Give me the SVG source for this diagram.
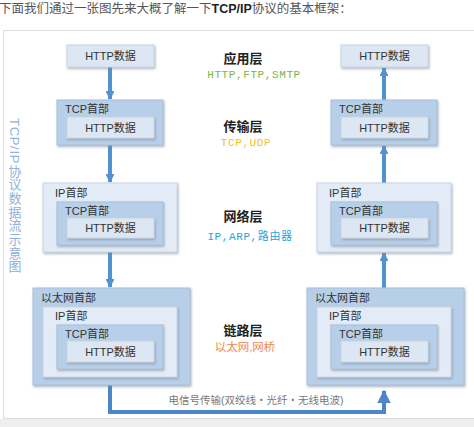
<svg xmlns="http://www.w3.org/2000/svg" width="474" height="427" viewBox="0 0 474 427">
<style>
text{font-family:"Liberation Sans","Noto Sans CJK SC",sans-serif}
.http{fill:#dce7f3;stroke:#c9d6e4;stroke-width:1}
.tcp{fill:#b7cfe8;stroke:#a8c0da;stroke-width:1}
.ip{fill:#e3ecf6;stroke:#c9d6e4;stroke-width:1}
.eth{fill:#b7cfe8;stroke:#a8c0da;stroke-width:1}
.bt{font-size:11px;fill:#333}
.ct{font-size:11px;fill:#333;text-anchor:middle}
.layer{font-size:13px;font-weight:bold;fill:#222;text-anchor:middle}
.proto{font-family:"Liberation Mono","Noto Sans CJK SC",monospace;font-size:11px;text-anchor:middle;letter-spacing:0.6px}
.arr{stroke:#5291d2;stroke-width:4;fill:none}
</style>
<defs>
<filter id="sh" x="-10%" y="-10%" width="130%" height="140%">
<feDropShadow dx="1" dy="1.5" stdDeviation="0.8" flood-color="#7a8896" flood-opacity="0.6"/>
</filter>
<marker id="ah" viewBox="0 0 10 10" refX="9" refY="5" markerWidth="2.2" markerHeight="2.2" orient="auto" markerUnits="strokeWidth">
<path d="M0,0 L10,5 L0,10 z" fill="#5291d2"/>
</marker>
<marker id="ahb" viewBox="0 0 10 10" refX="9" refY="5" markerWidth="3.4" markerHeight="3.4" orient="auto" markerUnits="strokeWidth">
<path d="M0,0 L10,5 L0,10 z" fill="#4a86c8"/>
</marker>
</defs>
<rect x="0" y="0" width="474" height="427" fill="#ffffff"/>
<rect x="0" y="419" width="474" height="8" fill="#efefef"/>
<text x="-1" y="13" font-size="12.5" fill="#555">下面我们通过一张图先来大概了解一下<tspan font-weight="bold" fill="#222">TCP/IP</tspan>协议的基本框架：</text>
<rect x="3.5" y="30.5" width="475" height="388" fill="#ffffff" stroke="#dddddd"/>
<text x="14" y="118" font-size="13" fill="#8fb1dc" letter-spacing="0.7" style="writing-mode:vertical-rl;text-orientation:mixed">TCP/IP协议数据流示意图</text>

<g id="connectors">
<line class="arr" x1="110" y1="67" x2="110" y2="99" marker-end="url(#ah)"/>
<line class="arr" x1="110" y1="145" x2="110" y2="182" marker-end="url(#ah)"/>
<line class="arr" x1="110" y1="252" x2="110" y2="287" marker-end="url(#ah)"/>
<line class="arr" x1="384" y1="100" x2="384" y2="68" marker-end="url(#ah)"/>
<line class="arr" x1="384" y1="183" x2="384" y2="146" marker-end="url(#ah)"/>
<line class="arr" x1="384" y1="288" x2="384" y2="253" marker-end="url(#ah)"/>
<polyline points="110,385 110,412 384,412 384,391" stroke="#4a86c8" stroke-width="4" fill="none" marker-end="url(#ahb)"/>
<text x="256" y="404" font-size="10.5" fill="#777" text-anchor="middle">电信号传输(双绞线・光纤・无线电波)</text>
</g>

<g id="layers">
<text class="layer" x="243" y="63">应用层</text>
<text class="proto" x="254" y="78" fill="#7ab648">HTTP,FTP,SMTP</text>
<text class="layer" x="243" y="131">传输层</text>
<text class="proto" x="246" y="146" fill="#f2c21b">TCP,UDP</text>
<text class="proto" x="250" y="240" fill="#28a3df">IP,ARP,路由器</text>
<text class="layer" x="243" y="221">网络层</text>
<text class="layer" x="243" y="335">链路层</text>
<text x="245" y="351" font-size="11.5" fill="#ef8a4c" text-anchor="middle">以太网,网桥</text>
</g>

<g id="left-app">
<rect class="http" x="67" y="45" width="87" height="22" filter="url(#sh)"/>
<text class="ct" x="110.5" y="60">HTTP数据</text>
</g>
<g id="left-transport">
<rect class="tcp" x="57" y="100" width="106" height="45" filter="url(#sh)"/>
<text class="bt" x="65" y="113">TCP首部</text>
<rect class="http" x="67" y="117" width="87" height="21" filter="url(#sh)"/>
<text class="ct" x="110.5" y="131.5">HTTP数据</text>
</g>
<g id="left-network">
<rect class="ip" x="43" y="183" width="134" height="69" filter="url(#sh)"/>
<text class="bt" x="55" y="197">IP首部</text>
<rect class="tcp" x="57" y="202" width="106" height="43" filter="url(#sh)"/>
<text class="bt" x="65" y="215">TCP首部</text>
<rect class="http" x="67" y="218" width="87" height="20" filter="url(#sh)"/>
<text class="ct" x="110.5" y="232">HTTP数据</text>
</g>
<g id="left-link">
<rect class="eth" x="33" y="288" width="157" height="97" filter="url(#sh)"/>
<text class="bt" x="41" y="302">以太网首部</text>
<rect class="ip" x="43" y="307" width="134" height="70" filter="url(#sh)"/>
<text class="bt" x="55" y="320">IP首部</text>
<rect class="tcp" x="57" y="325" width="106" height="44" filter="url(#sh)"/>
<text class="bt" x="65" y="338">TCP首部</text>
<rect class="http" x="67" y="341" width="87" height="21" filter="url(#sh)"/>
<text class="ct" x="110.5" y="355.5">HTTP数据</text>
</g>

<g id="right-app">
<rect class="http" x="341" y="45" width="87" height="22" filter="url(#sh)"/>
<text class="ct" x="384.5" y="60">HTTP数据</text>
</g>
<g id="right-transport">
<rect class="tcp" x="331" y="100" width="106" height="45" filter="url(#sh)"/>
<text class="bt" x="339" y="113">TCP首部</text>
<rect class="http" x="341" y="117" width="87" height="21" filter="url(#sh)"/>
<text class="ct" x="384.5" y="131.5">HTTP数据</text>
</g>
<g id="right-network">
<rect class="ip" x="317" y="183" width="134" height="69" filter="url(#sh)"/>
<text class="bt" x="329" y="197">IP首部</text>
<rect class="tcp" x="331" y="202" width="106" height="43" filter="url(#sh)"/>
<text class="bt" x="339" y="215">TCP首部</text>
<rect class="http" x="341" y="218" width="87" height="20" filter="url(#sh)"/>
<text class="ct" x="384.5" y="232">HTTP数据</text>
</g>
<g id="right-link">
<rect class="eth" x="307" y="288" width="157" height="97" filter="url(#sh)"/>
<text class="bt" x="315" y="302">以太网首部</text>
<rect class="ip" x="317" y="307" width="134" height="70" filter="url(#sh)"/>
<text class="bt" x="329" y="320">IP首部</text>
<rect class="tcp" x="331" y="325" width="106" height="44" filter="url(#sh)"/>
<text class="bt" x="339" y="338">TCP首部</text>
<rect class="http" x="341" y="341" width="87" height="21" filter="url(#sh)"/>
<text class="ct" x="384.5" y="355.5">HTTP数据</text>
</g>
</svg>
